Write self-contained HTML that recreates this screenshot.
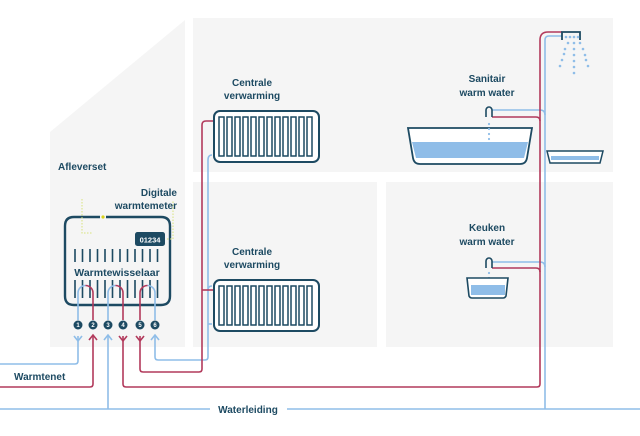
<!DOCTYPE html>
<html><head><style>
html,body{margin:0;padding:0;background:#fff;}
svg{display:block;}
text{font-family:"Liberation Sans",sans-serif;fill:#1d4a62;font-size:10px;font-weight:bold;}
</style></head><body>
<svg width="640" height="436" viewBox="0 0 640 436" xmlns="http://www.w3.org/2000/svg">
<polygon points="50,132 185,20 185,347 50,347" fill="#f5f5f5"/>
<rect x="193" y="18" width="420" height="154" fill="#f5f5f5"/>
<rect x="193" y="182" width="184" height="165" fill="#f5f5f5"/>
<rect x="386" y="182" width="227" height="165" fill="#f5f5f5"/>

<g fill="none" stroke="#8fbde8" stroke-width="1.6">
<path d="M0,409 H210 M287,409 H640"/>
<path d="M108,409 V336"/>
<path d="M545,409 V40 Q545,36 549,36 H562"/>
<path d="M0,364 H75 Q78,364 78,361 V336"/>
<path d="M155,336 V357 Q155,360 158,360 H205 Q208,360 208,357 V290 Q208,286 212,286"/>
<path d="M208,290 V160 Q208,155 212,155"/>
<path d="M212,324 H208"/>
<path d="M492,110 H540 Q545,110 545,115 M492,262 H540 Q545,262 545,267"/>
</g>
<g fill="none" stroke="#b23a5c" stroke-width="1.6">
<path d="M0,387 H90 Q93,387 93,384 V336"/>
<path d="M123,336 V384 Q123,387 126,387 H537 Q540,387 540,384 V40 Q540,32 548,32 H562"/>
<path d="M140,336 V369 Q140,372 143,372 H199 Q202,372 202,369 V125 Q202,121 206,121 H214"/>
<path d="M202,290 H214"/>
<path d="M492,117 H536 Q540,117 540,121 M492,268 H536 Q540,268 540,272"/>
</g>
<g fill="none" stroke-width="1.6">
<path d="M74,336 L78,341 L82,336" stroke="#8fbde8"/>
<path d="M89,340 L93,335 L97,340" stroke="#b23a5c"/>
<path d="M104,340 L108,335 L112,340" stroke="#8fbde8"/>
<path d="M119,336 L123,341 L127,336" stroke="#b23a5c"/>
<path d="M136,336 L140,341 L144,336" stroke="#b23a5c"/>
<path d="M151,340 L155,335 L159,340" stroke="#8fbde8"/>
</g>

<path d="M100,217 H74 Q65,217 65,226 V296 Q65,305 74,305 H161 Q170,305 170,296 V226 Q170,217 161,217 H106" fill="none" stroke="#1d4a62" stroke-width="2.4"/>
<circle cx="103" cy="217" r="1.6" fill="#d8d21a"/>
<path d="M82,199 V233 H92" fill="none" stroke="#d8e27a" stroke-width="1" stroke-dasharray="1.5,1.5"/>
<path d="M167,239 H173 V200" fill="none" stroke="#d8e27a" stroke-width="1" stroke-dasharray="1.5,1.5"/>
<rect x="135" y="232" width="30" height="14" rx="2.5" fill="#1d4a62"/>
<text x="150" y="242.5" text-anchor="middle" style="fill:#fff;font-size:7.5px">01234</text>
<g stroke="#1d4a62" stroke-width="1.6">
<path d="M75,249 V262 M82.5,249 V262 M90,249 V262 M97.5,249 V262 M105,249 V262 M112.5,249 V262 M120,249 V262 M127.5,249 V262 M135,249 V262 M142.5,249 V262 M150,249 V262 M157.5,249 V262"/>
<path d="M75,280 V298 M82.5,280 V298 M90,280 V298 M97.5,280 V298 M105,280 V298 M112.5,280 V298 M120,280 V298 M127.5,280 V298 M135,280 V298 M142.5,280 V298 M150,280 V298 M157.5,280 V298"/>
</g>
<text x="117" y="276" text-anchor="middle" style="font-size:10.5px">Warmtewisselaar</text>
<g fill="none" stroke-width="1.6">
<path d="M78,320 V293 A7.5,7.5 0 0 1 85.5,285.5" stroke="#8fbde8"/>
<path d="M85.5,285.5 A7.5,7.5 0 0 1 93,293 V320" stroke="#b23a5c"/>
<path d="M108,320 V293 A7.5,7.5 0 0 1 115.5,285.5" stroke="#8fbde8"/>
<path d="M115.5,285.5 A7.5,7.5 0 0 1 123,293 V320" stroke="#b23a5c"/>
<path d="M140,320 V293 A7.5,7.5 0 0 1 147.5,285.5" stroke="#b23a5c"/>
<path d="M147.5,285.5 A7.5,7.5 0 0 1 155,293 V320" stroke="#8fbde8"/>
</g>
<g fill="#1d4a62">
<circle cx="78" cy="325" r="4.5"/><circle cx="93" cy="325" r="4.5"/><circle cx="108" cy="325" r="4.5"/>
<circle cx="123" cy="325" r="4.5"/><circle cx="140" cy="325" r="4.5"/><circle cx="155" cy="325" r="4.5"/>
</g>
<g text-anchor="middle">
<text x="78" y="327.2" style="fill:#fff;font-size:6px">1</text><text x="93" y="327.2" style="fill:#fff;font-size:6px">2</text>
<text x="108" y="327.2" style="fill:#fff;font-size:6px">3</text><text x="123" y="327.2" style="fill:#fff;font-size:6px">4</text>
<text x="140" y="327.2" style="fill:#fff;font-size:6px">5</text><text x="155" y="327.2" style="fill:#fff;font-size:6px">6</text>
</g>

<g>
<rect x="214" y="111" width="105" height="51" rx="6" fill="#fff" stroke="#1d4a62" stroke-width="2"/>
<rect x="214" y="280" width="105" height="51" rx="6" fill="#fff" stroke="#1d4a62" stroke-width="2"/>
<g fill="none" stroke="#1d4a62" stroke-width="1.5">
<path d="M219,117 h5 v39 h-5z M227,117 h5 v39 h-5z M235,117 h5 v39 h-5z M243,117 h5 v39 h-5z M251,117 h5 v39 h-5z M259,117 h5 v39 h-5z M267,117 h5 v39 h-5z M275,117 h5 v39 h-5z M283,117 h5 v39 h-5z M291,117 h5 v39 h-5z M299,117 h5 v39 h-5z M307,117 h5 v39 h-5z"/>
<path d="M219,286 h5 v39 h-5z M227,286 h5 v39 h-5z M235,286 h5 v39 h-5z M243,286 h5 v39 h-5z M251,286 h5 v39 h-5z M259,286 h5 v39 h-5z M267,286 h5 v39 h-5z M275,286 h5 v39 h-5z M283,286 h5 v39 h-5z M291,286 h5 v39 h-5z M299,286 h5 v39 h-5z M307,286 h5 v39 h-5z"/>
</g>
</g>

<path d="M562,40 V32 H580 V40" fill="none" stroke="#1d4a62" stroke-width="1.8"/>
<g fill="#8fbde8">
<circle cx="566" cy="37" r="1.3"/><circle cx="570" cy="37" r="1.3"/><circle cx="574" cy="37" r="1.3"/><circle cx="578" cy="37" r="1.3"/>
<circle cx="568" cy="43" r="1.3"/><circle cx="574" cy="43" r="1.3"/><circle cx="580" cy="43" r="1.3"/>
<circle cx="565" cy="49" r="1.3"/><circle cx="574" cy="49" r="1.3"/><circle cx="583" cy="49" r="1.3"/>
<circle cx="564" cy="54" r="1.3"/><circle cx="574" cy="55" r="1.3"/><circle cx="585" cy="55" r="1.3"/>
<circle cx="562" cy="60" r="1.3"/><circle cx="574" cy="61" r="1.3"/><circle cx="586" cy="60" r="1.3"/>
<circle cx="560" cy="66" r="1.3"/><circle cx="574" cy="67" r="1.3"/><circle cx="588" cy="66" r="1.3"/>
<circle cx="574" cy="73" r="1.3"/>
</g>
<path d="M408,128 H532 L527,158 Q526,164 520,164 H420 Q414,164 413,158 Z" fill="#fff" stroke="#1d4a62" stroke-width="1.8"/>
<path d="M412,142 H528 L524,158 H416 Z" fill="#8fbde8"/>
<path d="M486,117 V110 A3,3 0 0 1 492,110 V117" fill="none" stroke="#1d4a62" stroke-width="1.6"/>
<g fill="#8fbde8"><circle cx="489" cy="124" r="1.1"/><circle cx="489" cy="129" r="1.1"/><circle cx="489" cy="134" r="1.1"/><circle cx="489" cy="139" r="1.1"/></g>
<path d="M547,151 H603 L600,163 H550 Z" fill="#fff" stroke="#1d4a62" stroke-width="1.5"/>
<rect x="551" y="156" width="48" height="4" fill="#8fbde8"/>
<path d="M486,268 V261 A3,3 0 0 1 492,261 V268" fill="none" stroke="#1d4a62" stroke-width="1.6"/>
<g fill="#8fbde8"><circle cx="489" cy="273" r="1.1"/><circle cx="489" cy="278" r="1.1"/></g>
<path d="M467,278 H508 L506,296 Q505,298 503,298 H472 Q470,298 469,296 Z" fill="#fff" stroke="#1d4a62" stroke-width="1.6"/>
<rect x="471" y="285" width="34" height="10" fill="#8fbde8"/>

<text x="252" y="86" text-anchor="middle">Centrale</text>
<text x="252" y="99" text-anchor="middle">verwarming</text>
<text x="252" y="255" text-anchor="middle">Centrale</text>
<text x="252" y="268" text-anchor="middle">verwarming</text>
<text x="487" y="82" text-anchor="middle">Sanitair</text>
<text x="487" y="96" text-anchor="middle">warm water</text>
<text x="487" y="231" text-anchor="middle">Keuken</text>
<text x="487" y="245" text-anchor="middle">warm water</text>
<text x="58" y="170">Afleverset</text>
<text x="177" y="196" text-anchor="end">Digitale</text>
<text x="177" y="209" text-anchor="end">warmtemeter</text>
<text x="14" y="380">Warmtenet</text>
<text x="248" y="413" text-anchor="middle">Waterleiding</text>
</svg>
</body></html>
